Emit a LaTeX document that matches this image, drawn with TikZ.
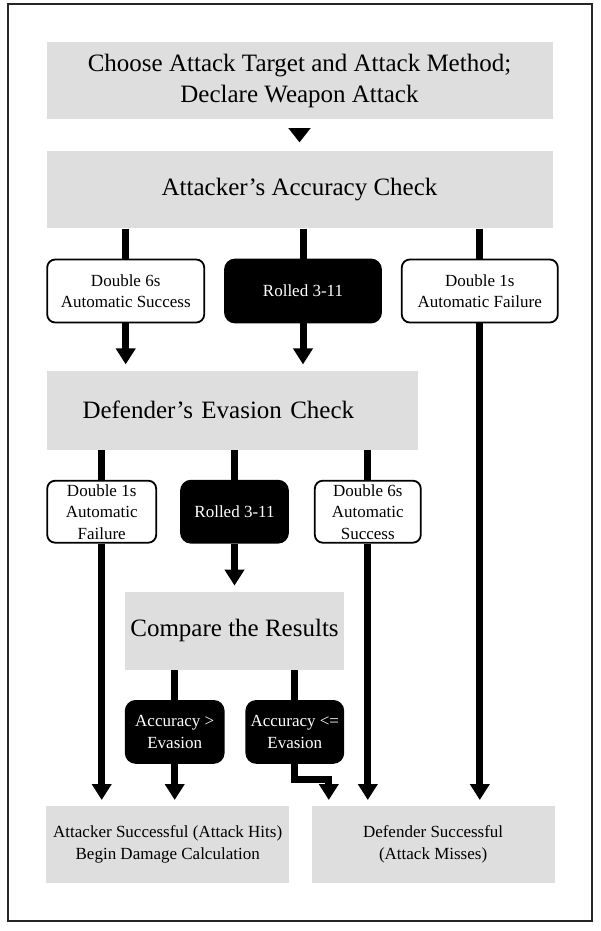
\documentclass[tikz,border=0pt]{standalone}
\usepackage{fontspec}
\setmainfont{Liberation Serif}
\usetikzlibrary{positioning, arrows.meta}

\definecolor{boxgray}{RGB}{222,222,222}

\begin{document}
\begin{tikzpicture}[
        x=1pt, y=-1pt,
        stage/.style={rectangle, fill=boxgray, inner sep=0pt, align=center, font=\fontsize{25}{31}\selectfont},
        result/.style={rectangle, fill=boxgray, inner sep=0pt, align=center, font=\fontsize{17}{22}\selectfont},
        outcome/.style={rectangle, rounded corners=8pt, draw=black, line width=1.8pt, fill=white, inner sep=0pt, align=center, font=\fontsize{17}{21.5}\selectfont},
        roll/.style={outcome, fill=black, text=white, rounded corners=10pt},
        link/.style={line width=7pt},
        arrow/.style={link, -{Triangle[length=16pt, width=19pt]}, shorten >=6pt}
    ]
        \useasboundingbox (0,0) rectangle (600,931);
        \draw[line width=1.6pt, draw=black!85] (8,4) rectangle (592,921);

        % attacker side
        \node[stage, minimum width=506pt, minimum height=77pt] (title) at (299.5,80.5) {Choose Attack Target and Attack Method;\\Declare Weapon Attack};
        \node[stage, minimum width=506pt, minimum height=77pt, below=32pt of title] (acc) {Attacker's Accuracy Check};

        \node[outcome, minimum width=157pt, minimum height=63pt, below=30pt of acc.south west, anchor=north west] (d6a) {Double 6s\\Automatic Success};
        \node[roll, minimum width=156pt, minimum height=63pt, right=19pt of d6a] (r1) {Rolled 3-11};
        \node[outcome, minimum width=156pt, minimum height=63pt, right=19pt of r1] (f1a) {Double 1s\\Automatic Failure};

        % defender side
        \node[stage, minimum width=371pt, minimum height=79pt, below=47pt of d6a.south west, anchor=north west,
              text width=299pt, inner xsep=36pt, align=left] (def) {Defender's Evasion Check};

        \node[outcome, minimum width=109pt, minimum height=62pt, below=30pt of def.south west, anchor=north west] (d1b) {Double 1s\\Automatic\\Failure};
        \node[roll, minimum width=107pt, minimum height=62pt, right=23pt of d1b] (r2) {Rolled 3-11};
        \node[outcome, minimum width=106pt, minimum height=62pt, right=25pt of r2] (d6b) {Double 6s\\Automatic\\Success};

        \node[stage, minimum width=219pt, minimum height=78pt, below=48pt of r2] (cmp) {Compare the Results};

        \node[roll, minimum width=98pt, minimum height=62pt, below=30pt of cmp.south west, anchor=north west] (gt) {Accuracy >\\Evasion};
        \node[roll, minimum width=97pt, minimum height=62pt, below=30pt of cmp.south east, anchor=north east] (le) {Accuracy <=\\Evasion};

        % outcomes
        \node[result, minimum width=243pt, minimum height=77pt, anchor=north west] (hit) at (46,806) {Attacker Successful (Attack Hits)\\Begin Damage Calculation};
        \node[result, minimum width=243pt, minimum height=77pt, right=22pt of hit] (miss) {Defender Successful\\(Attack Misses)};

        \draw[-{Triangle[length=14pt, width=22pt]}, line width=0.1pt, shorten <=9pt, shorten >=9pt] (title) -- (acc);

        \draw[link] (acc.south -| d6a) -- (d6a);
        \draw[arrow] (d6a) -- (def.north -| d6a);
        \draw[link] (acc.south -| r1) -- (r1);
        \draw[arrow] (r1) -- (def.north -| r1);
        \draw[link] (acc.south -| f1a) -- (f1a);
        \draw[arrow] (f1a) -- (miss.north -| f1a);

        \draw[link] (def.south -| d1b) -- (d1b);
        \draw[arrow] (d1b) -- (hit.north -| d1b);
        \draw[link] (def.south -| r2) -- (r2);
        \draw[arrow] (r2) -- (cmp);
        \draw[link] (def.south -| d6b) -- (d6b);
        \draw[arrow] (d6b) -- (miss.north -| d6b);

        \draw[link] (cmp.south -| gt) -- (gt);
        \draw[arrow] (gt) -- (hit.north -| gt);
        \draw[link] (cmp.south -| le) -- (le);
        \draw[arrow] (le.south) -- ++(0,16) -| ([xshift=34pt]le.south |- miss.north); % jog into defender box
    \end{tikzpicture}
\end{document}
